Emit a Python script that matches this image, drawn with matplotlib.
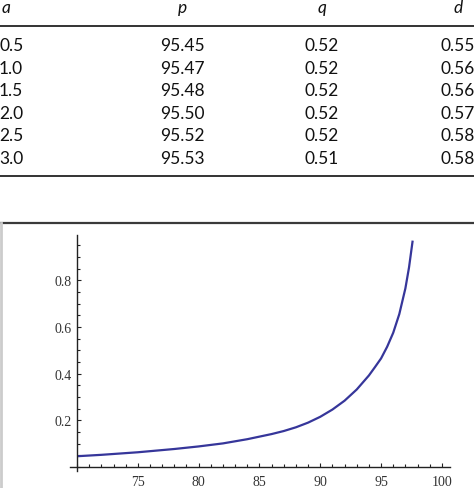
import matplotlib
matplotlib.use("AGG")
import matplotlib.pyplot as plt
from matplotlib.lines import Line2D
from matplotlib.ticker import MultipleLocator

W, H = 474, 489

# table data
headers = ["a", "p", "q", "d"]
a_vals = [0.5, 1.0, 1.5, 2.0, 2.5, 3.0]
p_vals = [95.45, 95.47, 95.48, 95.50, 95.52, 95.53]
q_vals = [0.52, 0.52, 0.52, 0.52, 0.52, 0.51]
d_vals = [0.55, 0.56, 0.56, 0.57, 0.58, 0.58]

# curve
curve_x = [70, 72, 75, 78, 80, 82, 84, 85, 86, 87, 88, 89, 90, 91, 92, 93,
           94, 94.5, 95, 95.5, 96, 96.5, 97, 97.3, 97.6]
curve_y = [0.046, 0.052, 0.063, 0.077, 0.088, 0.101, 0.119, 0.130, 0.141,
           0.154, 0.170, 0.190, 0.215, 0.246, 0.284, 0.332, 0.392, 0.428,
           0.465, 0.515, 0.575, 0.655, 0.765, 0.855, 0.970]


def fx(x):
    return x / W


def fy(y):
    return 1 - y / H


fig = plt.figure(figsize=(W / 100, H / 100), dpi=100)

tfont = "Lato"
tsize = 12.5
tcol = "#111111"
col_x = [-1, 182, 322, 458]
col_ha = ["left", "center", "center", "center"]

for x, ha, h in zip(col_x, col_ha, headers):
    fig.text(fx(x + (3 if ha == "left" else 0)), fy(13), h, ha=ha, va="baseline",
             family=tfont, style="italic", size=tsize, color=tcol)

row_base = 51
row_step = 22.6
for i, (a, p, q, d) in enumerate(zip(a_vals, p_vals, q_vals, d_vals)):
    y = fy(row_base + i * row_step)
    cells = [f"{a:.1f}", f"{p:.2f}", f"{q:.2f}", f"{d:.2f}"]
    for x, ha, s in zip(col_x, col_ha, cells):
        fig.text(fx(x), y, s, ha=ha, va="baseline", family=tfont,
                 size=tsize, color=tcol)

# table rules
for yy in (27, 177):
    fig.add_artist(Line2D([0, 1], [fy(yy), fy(yy)], color="#333333", lw=1.4,
                          transform=fig.transFigure))

# frame around the plot
fig.add_artist(Line2D([0, 1], [fy(223.5), fy(223.5)], color="#3a3a3a", lw=1.6,
                      transform=fig.transFigure))
fig.add_artist(Line2D([fx(1.3), fx(1.3)], [fy(224), 0], color="#cccccc", lw=2.0,
                      transform=fig.transFigure))

# plot
ax = fig.add_axes([fx(70), fy(471.7), fx(450) - fx(70), fy(236) - fy(471.7)])
ax.plot(curve_x, curve_y, color="#36369a", lw=1.6, solid_capstyle="butt")
ax.set_xlim(69.42, 100.67)
ax.set_ylim(-0.016, 0.994)

for s in ("top", "right"):
    ax.spines[s].set_visible(False)
ax.spines["left"].set_position(("data", 70))
ax.spines["bottom"].set_position(("data", 0))
for s in ("left", "bottom"):
    ax.spines[s].set_color("#222222")
    ax.spines[s].set_linewidth(1.0)

ax.set_xticks([75, 80, 85, 90, 95, 100])
ax.set_yticks([0.2, 0.4, 0.6, 0.8])
ax.xaxis.set_minor_locator(MultipleLocator(1))
ax.yaxis.set_minor_locator(MultipleLocator(0.05))
ax.set_xticklabels(["75", "80", "85", "90", "95", "100"])
ax.set_yticklabels(["0.2", "0.4", "0.6", "0.8"])
ax.tick_params(which="both", direction="in", color="#222222", width=0.8)
ax.tick_params(which="major", length=3.2, labelsize=10, labelcolor="#333333")
ax.tick_params(axis="x", which="major", pad=5.5)
ax.tick_params(axis="y", which="major", pad=3.8)
ax.tick_params(which="minor", length=1.9)
for lab in ax.get_xticklabels() + ax.get_yticklabels():
    lab.set_family("Liberation Serif")
ax.patch.set_alpha(0)

fig.savefig("out.png", dpi=100)
